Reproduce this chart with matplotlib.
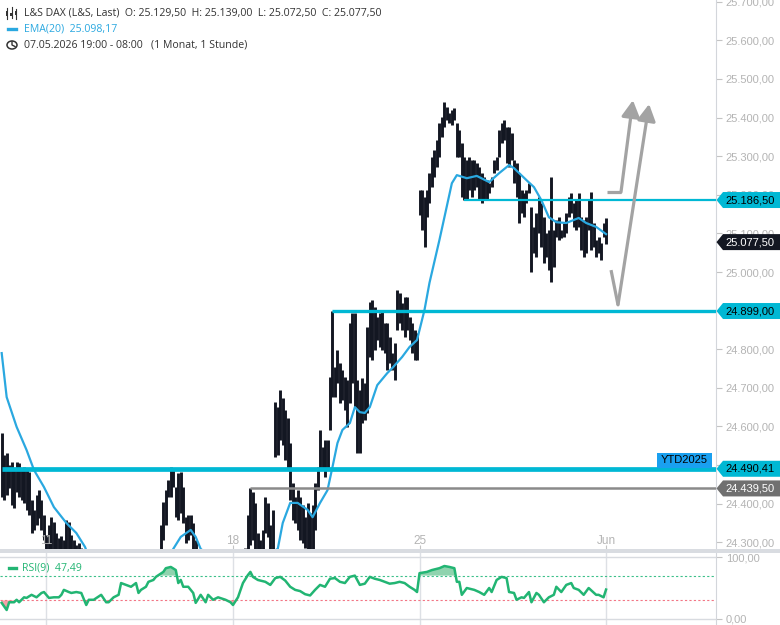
import numpy as np
import matplotlib.pyplot as plt
from matplotlib.patches import Polygon, Rectangle, Circle
from matplotlib.lines import Line2D
from matplotlib.transforms import blended_transform_factory

# hourly bars, L&S DAX, 07.05.2026 19:00 - 01.06.2026 08:00 (15 bars per day)
highs = [
    24583, 24526, 24531, 24500, 24508, 24487, 24508, 24505, 24492, 24495,
    24487, 24482, 24409, 24384, 24422, 24435, 24409, 24371, 24319, 24345,
    24365, 24352, 24324, 24311, 24317, 24306, 24358, 24352, 24319, 24306,
    24293, 24298, 24285, 24275,
    24262, 24255, 24248, 24240, 24236, 24245, 24252, 24238, 24230, 24226,
    24232, 24240, 24248, 24256, 24262, 24258, 24266, 24270, 24264, 24258,
    24268, 24262, 24255, 24260, 24266, 24272, 24268, 24274, 24276, 24270,
    24345, 24404, 24435, 24461, 24495, 24487, 24443, 24479, 24482, 24443,
    24365, 24371, 24371, 24350, 24306,
    24270, 24262, 24255, 24248, 24240, 24235, 24242, 24250, 24244, 24236,
    24230, 24238, 24246, 24254, 24260, 24266, 24272, 24276, 24278,
    24285, 24371, 24439.5, 24430, 24402, 24324, 24306, 24332, 24417, 24402,
    24345, 24384, 24663, 24650, 24694, 24674, 24643, 24622, 24557, 24453,
    24417, 24435, 24417, 24397, 24365, 24402, 24376, 24397, 24453, 24495,
    24591, 24547, 24565, 24565, 24728, 24899, 24754, 24798, 24764, 24746,
    24728, 24720, 24868, 24894, 24894, 24720, 24694, 24725, 24712, 24858,
    24922, 24927, 24909, 24883, 24894, 24902, 24868, 24868, 24832, 24790,
    24816, 24953, 24946, 24920, 24935, 24935, 24883, 24868, 24850, 24842,
    25212, 25212, 25194, 25212, 25256, 25298, 25316, 25342, 25386, 25401,
    25440, 25427, 25412, 25420, 25425, 25386, 25368, 25334, 25298, 25290,
    25298, 25290, 25290, 25282, 25272, 25256, 25246, 25238, 25230, 25246,
    25290, 25298, 25368, 25386, 25394, 25376, 25376, 25360, 25290, 25282,
    25256, 25212, 25204, 25212, 25230, 25168, 25117, 25153, 25194, 25179,
    25142, 25101, 25109, 25246, 25109, 25135, 25142, 25109, 25127, 25153,
    25194, 25204, 25179, 25186, 25204, 25142, 25135, 25142, 25186, 25207,
    25127, 25083, 25091, 25075, 25127, 25139,
]
lows = [
    24417, 24409, 24422, 24440, 24397, 24389, 24430, 24417, 24409, 24402,
    24384, 24371, 24324, 24332, 24345, 24363, 24332, 24306, 24267, 24267,
    24275, 24267, 24264, 24264, 24264, 24264, 24267, 24267, 24264, 24264,
    24259, 24259, 24254, 24241,
    24215, 24205, 24198, 24192, 24186, 24194, 24203, 24190, 24182, 24178,
    24185, 24192, 24200, 24208, 24214, 24210, 24218, 24222, 24215, 24208,
    24220, 24214, 24206, 24212, 24218, 24224, 24220, 24226, 24228, 24222,
    24267, 24306, 24345, 24417, 24417, 24443, 24365, 24358, 24376, 24350,
    24298, 24306, 24319, 24264, 24259,
    24222, 24214, 24206, 24200, 24192, 24188, 24195, 24202, 24196, 24188,
    24182, 24190, 24198, 24206, 24212, 24218, 24224, 24228, 24230,
    24254, 24264, 24293, 24306, 24280, 24262, 24262, 24264, 24324, 24314,
    24275, 24280, 24521, 24526, 24565, 24552, 24513, 24487, 24409, 24358,
    24350, 24332, 24306, 24298, 24285, 24280, 24262, 24270, 24332, 24435,
    24487, 24487, 24469, 24487, 24591, 24676, 24676, 24712, 24661, 24668,
    24643, 24599, 24661, 24712, 24650, 24531, 24531, 24609, 24617, 24635,
    24780, 24772, 24798, 24824, 24806, 24798, 24790, 24746, 24764, 24746,
    24720, 24850, 24868, 24850, 24832, 24850, 24824, 24790, 24772, 24772,
    25148, 25109, 25065, 25142, 25179, 25220, 25246, 25272, 25298, 25350,
    25376, 25394, 25386, 25381, 25394, 25298, 25298, 25194, 25186, 25186,
    25212, 25194, 25212, 25220, 25186, 25179, 25186, 25186, 25204, 25220,
    25256, 25264, 25298, 25334, 25342, 25282, 25272, 25290, 25230, 25194,
    25127, 25153, 25142, 25179, 25204, 25000, 25049, 25039, 25101, 25065,
    25023, 25039, 25005, 24974, 25013, 25091, 25083, 25088, 25091, 25101,
    25142, 25153, 25117, 25109, 25117, 25057, 25039, 25049, 25109, 25057,
    25065, 25039, 25049, 25031, 25091, 25072.5,
]

# EMA(20) (bar index, value)
ema_idx = [0, 2, 6, 10, 13, 17, 21, 26, 30, 33.5, 36, 45, 55, 64, 69, 72, 76, 78, 80, 88,
           100, 107, 111, 113, 116, 119, 123, 125, 128, 131, 133, 135, 137, 140, 142, 144,
           146, 148, 151, 155, 157, 161, 164, 167, 170, 172, 176, 181, 183, 187, 191, 196,
           200, 204, 206, 211, 214, 217, 220, 223, 227, 232, 235, 239, 243]
ema_val = [24790, 24676, 24599, 24539, 24487, 24443, 24391, 24350, 24324, 24288, 24245,
           24205, 24195, 24230, 24283, 24314, 24332, 24314, 24283, 24240, 24245, 24268,
           24283, 24350, 24402, 24402, 24384, 24365, 24402, 24435, 24495, 24557, 24591,
           24609, 24650, 24637, 24635, 24650, 24707, 24738, 24751, 24780, 24806, 24824,
           24902, 24972, 25083, 25230, 25251, 25243, 25249, 25233, 25256, 25277, 25269,
           25238, 25220, 25186, 25142, 25129, 25127, 25140, 25127, 25117, 25098.17]

# RSI(9) (bar index, value)
rsi_idx = [0, 2, 3, 5, 6, 7, 9, 10, 12, 14, 16, 17, 19, 21, 23, 24, 25, 27, 28, 30, 32,
           34, 35, 37, 40, 42, 43, 45, 47, 48, 50, 52, 54, 55, 56, 58, 59, 61, 62, 65, 66,
           68, 70, 71, 72, 73, 75, 77, 78, 80, 82, 83, 85, 87, 90, 92, 93, 95, 97, 99, 100,
           101, 103, 106, 108, 110, 112, 114, 116, 118, 120, 122, 124, 126, 128, 130, 132,
           134, 136, 138, 140, 142, 144, 146, 148, 150, 152, 154, 156, 158, 160, 162, 164,
           166, 167, 168, 171, 173, 176, 178, 180, 182, 183, 184, 185, 187, 190, 192, 194,
           196, 197, 199, 201, 203, 204, 206, 207, 209, 210, 212, 213, 215, 216, 218, 220,
           222, 223, 225, 227, 229, 230, 232, 234, 236, 239, 240, 242, 243]
rsi_val = [26, 14.5, 27, 27, 31, 27, 35, 34, 39, 35, 42, 43.5, 34, 35, 35, 39, 47, 43.5,
           42, 43.5, 42, 22.6, 31, 31, 39, 27, 27, 35, 39, 58, 55, 52, 58, 42, 47, 52, 60,
           63, 68, 76, 82, 84, 79, 58, 63, 52, 52, 42, 26, 39, 27, 39, 31, 35, 31, 27, 22.6,
           35, 58, 71, 76, 68, 63, 60, 55, 66, 68, 62, 52, 47, 45, 40, 38, 47, 55, 52, 65,
           66, 60, 58, 68, 70, 55, 57, 68, 65, 63, 60, 57, 58, 60, 58, 52, 47, 43.5, 74, 76,
           79, 82, 85.5, 84, 82, 60, 60, 39, 50, 47, 43.5, 39, 50, 43.5, 63, 68, 66, 43.5,
           42, 31, 35, 34, 43.5, 27, 42, 39, 27, 35, 39, 52, 43.5, 55, 58, 50, 47, 39, 50,
           39, 39, 35, 47.49]

week_idx = [18, 93, 168, 243]
week_lbl = ["11", "18", "25", "Jun"]

levels = [25186.5, 24899.0, 24490.41, 24439.5]
level_start = [186, 133, 0, 100]

# hand-drawn arrows (bar index, price)
arrow1_x = [243.5, 249, 253.8]
arrow1_y = [25207, 25207, 25445]
arrow2_x = [245, 247.8, 260.3]
arrow2_y = [25005, 24915, 25435]

last_close = 25077.5


def de(v):
    return f"{v:,.2f}".replace(",", "X").replace(".", ",").replace("X", ".")


W, H = 780, 625
fig = plt.figure(figsize=(W / 100, H / 100), dpi=100)
plt.rcParams['font.family'] = ['Liberation Sans', 'DejaVu Sans']
ax = fig.add_axes([0, 76 / H, 716 / W, 549 / H])
rx = fig.add_axes([0, 0, 716 / W, 72 / H])

xl = (-0.68, 287.2)
grey = '#b4b4b4'
cyan = '#00b8d4'

# bars
n = len(highs)
idx = np.arange(n)
ax.vlines(idx, lows, highs, color='#131722', lw=2.1, zorder=3)
ax.plot(ema_idx, ema_val, color='#2aa8e0', lw=1.6, zorder=4)

# level lines
lw_lv = [1.6, 2.4, 3.4, 1.8]
col_lv = [cyan, cyan, cyan, '#8a8a8a']
for lv, s, c, w in zip(levels, level_start, col_lv, lw_lv):
    ax.hlines(lv, s, xl[1], color=c, lw=w, zorder=5)

# arrows
acol = '#a3a3a3'
for xs, ys in [(arrow1_x, arrow1_y), (arrow2_x, arrow2_y)]:
    ax.plot(xs[:-1], ys[:-1], color=acol, lw=2.3, solid_capstyle='butt', zorder=6)
    ax.annotate('', xy=(xs[-1], ys[-1]), xytext=(xs[-2], ys[-2]),
                arrowprops=dict(arrowstyle='-|>,head_length=1.0,head_width=0.55',
                                color=acol, lw=2.3, shrinkA=0, shrinkB=0), zorder=6)

ax.set_xlim(*xl)
ax.set_ylim(24282.6, 25704.6)
for s in ['top', 'left', 'bottom']:
    ax.spines[s].set_visible(False)
ax.spines['right'].set_color('#d3d6db')
ax.yaxis.tick_right()
yt = np.arange(24300, 25800, 100)
ax.set_yticks(yt)
ax.set_yticklabels([de(v) for v in yt])
ax.tick_params(axis='y', colors='#c4c4c4', labelcolor=grey, length=4, pad=3, labelsize=8)
ax.set_xticks(week_idx)
ax.tick_params(axis='x', direction='in', length=3, colors='#c4c4c4', labelbottom=False)
for i, t in zip(week_idx, week_lbl):
    ax.text(i, 0.0146, t, transform=blended_transform_factory(ax.transData, ax.transAxes),
            ha='center', va='center', color=grey, fontsize=8.5)

# price tags on the axis
bt = blended_transform_factory(ax.transAxes, ax.transData)
half = 8 * 2.59
tags = [(25186.5, cyan, 'black'), (last_close, '#131722', 'white'),
        (24899.0, cyan, 'black'), (24490.41, cyan, 'black'), (24439.5, '#707070', 'white')]
for v, fc, tc in tags:
    x0, x1, x2 = 716.5 / 716, 723 / 716, 780 / 716
    poly = Polygon([(x0, v), (x1, v + half), (x2, v + half), (x2, v - half), (x1, v - half)],
                   closed=True, transform=bt, facecolor=fc, edgecolor='none',
                   clip_on=False, zorder=10)
    ax.add_patch(poly)
    ax.text(725 / 716, v, de(v), transform=bt, ha='left', va='center', color=tc,
            fontsize=8, clip_on=False, zorder=11)

ax.add_patch(Rectangle((657 / 716, 24492), 55 / 716, 40, transform=bt,
                       facecolor='#1aa0f0', edgecolor='none', zorder=9))
ax.text(684.5 / 716, 24512, 'YTD2025', transform=bt, ha='center', va='center',
        color='black', fontsize=8, zorder=10)

# RSI panel
rx.set_xlim(*xl)
rx.set_ylim(-9.7, 106.5)
ri = np.array(rsi_idx, dtype=float)
rv = np.array(rsi_val, dtype=float)
fi = np.linspace(ri[0], ri[-1], 3000)
fv = np.interp(fi, ri, rv)
rx.fill_between(fi, fv, 70, where=fv > 70, color='#8fd3ae', lw=0)
rx.fill_between(fi, fv, 30, where=fv < 30, color='#f4a0a8', lw=0)
rx.plot(ri, rv, color='#22b573', lw=1.8, zorder=4)
rx.axhline(70, color='#3cc08a', lw=0.8, ls=(0, (2, 2)))
rx.axhline(30, color='#f27685', lw=0.8, ls=(0, (2, 2)))
rx.axhline(100, color='#d8dbe0', lw=1)
rx.axhline(0, color='#d8dbe0', lw=1)
for i in week_idx:
    rx.axvline(i, color='#dde0e5', lw=1, zorder=0)
for s in ['top', 'left', 'bottom']:
    rx.spines[s].set_visible(False)
rx.spines['right'].set_color('#d3d6db')
rx.yaxis.tick_right()
rx.set_yticks([0, 100])
rx.set_yticklabels(['0,00', '100,00'])
rx.tick_params(axis='y', colors='#c4c4c4', labelcolor=grey, length=4, pad=3, labelsize=8)
rx.set_xticks([])

# panel separator
fig.add_artist(Rectangle((0, 72 / H), 1, 4 / H, transform=fig.transFigure,
                         facecolor='#d9dce1', edgecolor='none'))


def fx(px):
    return px / W


def fy(py):
    return 1 - py / H


hdr = dict(fontsize=7.6, family=['Open Sans', 'DejaVu Sans'], va='center', ha='left')
fig.text(fx(24), fy(13), 'L&S DAX (L&S, Last)  O: 25.129,50  H: 25.139,00  L: 25.072,50  C: 25.077,50',
         color='#333333', **hdr)
fig.text(fx(24), fy(29), 'EMA(20)  25.098,17', color='#2aa8e0', **hdr)
fig.text(fx(24), fy(45), '07.05.2026 19:00 - 08:00   (1 Monat, 1 Stunde)', color='#333333', **hdr)
fig.text(fx(22), fy(568), 'RSI(9)  47,49', color='#22b573', **hdr)
fig.add_artist(Line2D([fx(8), fx(16)], [fy(29), fy(29)], color='#2aa8e0', lw=2.4))
fig.add_artist(Line2D([fx(9), fx(16)], [fy(568), fy(568)], color='#22b573', lw=2.4))
# candle icon
for cx, top, bot, b0, b1 in [(7, 8, 19, 11, 16), (11.5, 7, 18, 13, 16), (16, 9, 19, 11, 15)]:
    fig.add_artist(Line2D([fx(cx), fx(cx)], [fy(top), fy(bot)], color='#333333', lw=0.8))
    fig.add_artist(Rectangle((fx(cx - 1.3), fy(b1)), 2.6 / W, (b1 - b0) / H,
                             transform=fig.transFigure, facecolor='#333333', edgecolor='none'))
# clock icon
fig.add_artist(Circle((fx(12), fy(45)), 5 / W, transform=fig.transFigure,
                      facecolor='none', edgecolor='#333333', lw=1.1))
fig.add_artist(Line2D([fx(12), fx(12), fx(15)], [fy(41.5), fy(45), fy(46.5)],
                      color='#333333', lw=1.0))

fig.savefig('out.png', dpi=100)
